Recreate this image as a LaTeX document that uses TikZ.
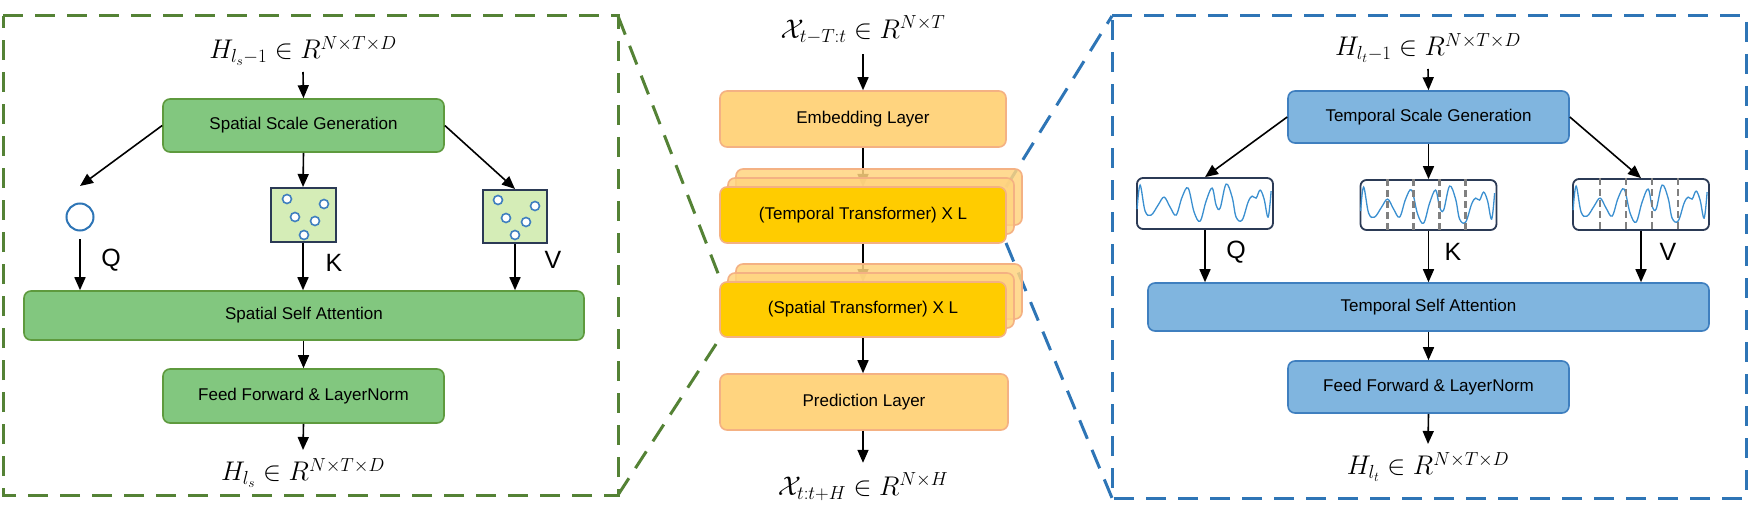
\RequirePackage{fix-cm}
\documentclass[tikz,border=0pt]{standalone}
\usepackage{fontspec}
\setmainfont{Liberation Sans}
\usetikzlibrary{arrows.meta}
\definecolor{gfill}{HTML}{82C77F}
\definecolor{gline}{HTML}{5E9A3E}
\definecolor{lgfill}{HTML}{D5EDB7}
\definecolor{navy}{HTML}{2B3A55}
\definecolor{bfill}{HTML}{80B5DF}
\definecolor{bline}{HTML}{3F7FBF}
\definecolor{ofill}{HTML}{FFD47F}
\definecolor{oline}{HTML}{F4B183}
\definecolor{yfill}{HTML}{FFCC00}
\definecolor{gframe}{HTML}{548235}
\definecolor{bframe}{HTML}{2E75B6}
\definecolor{wave}{HTML}{3A8FD0}
\begin{document}
\begin{tikzpicture}[x=1pt,y=-1pt,
  arr/.style={-{Triangle[length=13pt,width=11pt]},line width=1.6pt,black},
  base/.style={rectangle,rounded corners=7pt,line width=1.6pt,inner sep=0pt,font=\fontsize{17}{20}\selectfont},
  gbox/.style={base,fill=gfill,draw=gline},
  bbox/.style={base,fill=bfill,draw=bline},
  obox/.style={base,fill=ofill,draw=oline},
  ybox/.style={base,fill=yfill,draw=oline},
  backbox/.style={base,fill=ofill,draw=oline,fill opacity=0.85},
  lgbox/.style={rectangle,fill=lgfill,draw=navy,line width=2pt,inner sep=0pt},
  wbox/.style={rectangle,rounded corners=6pt,fill=white,draw=navy,line width=1.8pt,inner sep=0pt},
  lab/.style={inner sep=0pt,font=\fontsize{27}{31}\selectfont},
  qkv/.style={inner sep=0pt,font=\fontsize{25}{29}\selectfont},
  frame/.style={line width=3pt,dash pattern=on 20pt off 12pt},
  dot/.style={circle,draw=bline,line width=1.6pt,fill=white,minimum size=9pt,inner sep=0pt},
  divl/.style={draw=gray,line width=2.4pt,dash pattern=on 7pt off 4pt},
  wv/.style={draw=wave,line width=1.3pt}]
\useasboundingbox (0,0) rectangle (1748,505);
% frames
\coordinate (gtl) at (3,16); \coordinate (gtr) at (618,16);
\coordinate (gbr) at (618,495); \coordinate (gbl) at (3,495);
\coordinate (btl) at (1112,16); \coordinate (btr) at (1746,16);
\coordinate (bbr) at (1746,498); \coordinate (bbl) at (1112,498);
\draw[frame,gframe] (gtl) -- (gtr) -- (gbr) -- (gbl) -- cycle;
\draw[frame,bframe] (btl) -- (btr) -- (bbr) -- (bbl) -- cycle;

% ---------- left panel ----------
\node[lab] (hin) at (303,51) {$H_{l_s-1}\in R^{N\times T\times D}$};
\node[gbox,minimum width=281pt,minimum height=53pt] (ssg) at (303.5,125.5) {Spatial Scale Generation};
\node[circle,draw=bframe,line width=2pt,minimum size=27pt,inner sep=0pt] (q) at (80,217) {};
\node[lgbox,minimum width=65pt,minimum height=54pt] (kb) at (303,215) {};
\node[lgbox,minimum width=64pt,minimum height=53pt] (vb) at (515,216.5) {};
\foreach \p in {(287,199),(324,204),(295,217),(315,221),(304,235)} \node[dot] at \p {};
\foreach \p in {(498,200),(535,206),(506,218),(526,222),(515,235)} \node[dot] at \p {};
\node[gbox,minimum width=560pt,minimum height=49pt] (ssa) at (304,315.5) {Spatial Self Attention};
\node[gbox,minimum width=281pt,minimum height=54pt] (ff) at (303.5,396) {Feed Forward \& LayerNorm};
\node[lab] (hout) at (303,473) {$H_{l_s}\in R^{N\times T\times D}$};
\node[qkv] (lq) at (111,260) {Q};
\node[qkv] (lk) at (334,263) {K};
\node[qkv] (lv) at (553,260) {V};
\coordinate (qt) at (80,186);
\draw[arr] (hin.south) ++(0,6) -- (ssg.north);
\draw[arr] (ssg.west) -- (qt);
\draw[arr] (ssg.south) -- (kb.north);
\draw[arr] (ssg.east) -- (vb.north);
\draw[arr] ([yshift=-8pt]q.south) -- (q.south |- ssa.north);
\draw[arr] (kb.south) -- (kb.south |- ssa.north);
\draw[arr] (vb.south) -- (vb.south |- ssa.north);
\draw[arr] (ssa.south -| ff.north) -- (ff.north);
\draw[arr] (ff.south) -- ([yshift=8pt]hout.north);

% ---------- middle ----------
\coordinate (tfne) at (1006,187); \coordinate (tfse) at (1006,243);
\coordinate (sfnw) at (721,281); \coordinate (sfsw) at (720,338);
\draw[frame,gframe] (gtr) -- (sfnw);
\draw[frame,gframe] (gbr) -- (sfsw);
\draw[frame,bframe] (tfne) -- (btl);
\draw[frame,bframe] (tfse) -- (bbl);
\node[lab] (xin) at (863,30) {$\mathcal{X}_{t-T:t}\in R^{N\times T}$};
\node[obox,minimum width=286pt,minimum height=56pt] (emb) at (863,119) {Embedding Layer};
\draw[arr] (emb.south) -- (863,187);
\node[backbox,minimum width=286pt,minimum height=56pt] (tb2) at (879,197) {};
\node[backbox,minimum width=286pt,minimum height=56pt] (tb1) at (871,206) {};
\node[ybox,minimum width=286pt,minimum height=56pt] (tf) at (863,215) {(Temporal Transformer) X L};
\draw[arr] (tf.south) -- (863,282);
\node[backbox,minimum width=286pt,minimum height=55pt] (sb2) at (879,291.5) {};
\node[backbox,minimum width=286pt,minimum height=55pt] (sb1) at (871,300.5) {};
\node[ybox,minimum width=286pt,minimum height=55pt] (sf) at (863,309.5) {(Spatial Transformer) X L};
\node[obox,minimum width=288pt,minimum height=56pt] (pred) at (864,402) {Prediction Layer};
\node[lab] (xout) at (863,487) {$\mathcal{X}_{t:t+H}\in R^{N\times H}$};
\draw[arr] (xin.south) ++(0,10) -- (emb.north);
\draw[arr] (sf.south) -- (sf.south |- pred.north);
\draw[arr] (pred.south -| xout.north) -- ([yshift=10pt]xout.north);

% ---------- right panel ----------
\node[lab] (hin2) at (1428,48) {$H_{l_t-1}\in R^{N\times T\times D}$};
\node[bbox,minimum width=281pt,minimum height=52pt] (tsg) at (1428.5,117) {Temporal Scale Generation};
\node[wbox,minimum width=136pt,minimum height=51pt] (qw) at (1205,203.5) {};
\node[wbox,minimum width=136pt,minimum height=50pt] (kw) at (1428.5,205) {};
\node[wbox,minimum width=136pt,minimum height=51pt] (vw) at (1641,204.5) {};
\foreach \b in {qw,kw,vw}{
  \begin{scope}[shift={(\b.north west)}]
    \draw[wv] plot[smooth,tension=0.6] coordinates {(1,32) (4,8) (9,34) (15,38) (22,28) (28,20) (34,30) (40,38) (46,20) (52,11) (58,35) (64,44) (70,24) (76,11) (80,28) (84,31) (90,7) (96,20) (100,40) (106,43) (112,25) (116,19) (120,21) (124,13) (128,22) (132,40) (135,14)};
  \end{scope}}
\foreach \b in {kw,vw}{
  \foreach \dx in {28,54,80,106}{
    \draw[divl] ([xshift=\dx pt]\b.north west) -- ([xshift=\dx pt]\b.south west);}}
\node[bbox,minimum width=561pt,minimum height=48pt] (tsa) at (1428.5,307) {Temporal Self Attention};
\node[bbox,minimum width=281pt,minimum height=52pt] (ff2) at (1428.5,387) {Feed Forward \& LayerNorm};
\node[lab] (hout2) at (1428,467) {$H_{l_t}\in R^{N\times T\times D}$};
\node[qkv] (rq) at (1236,252) {Q};
\node[qkv] (rk) at (1453,252) {K};
\node[qkv] (rv) at (1668,252) {V};
\draw[arr] (hin2.south) ++(0,6) -- (tsg.north);
\draw[arr] (tsg.west) -- (qw.north);
\draw[arr] (tsg.south) -- (kw.north);
\draw[arr] (tsg.east) -- (vw.north);
\draw[arr] (qw.south) -- (qw.south |- tsa.north);
\draw[arr] (kw.south) -- (kw.south |- tsa.north);
\draw[arr] (vw.south) -- (vw.south |- tsa.north);
\draw[arr] (tsa.south -| ff2.north) -- (ff2.north);
\draw[arr] (ff2.south) -- ([yshift=8pt]hout2.north);
\end{tikzpicture}
\end{document}
